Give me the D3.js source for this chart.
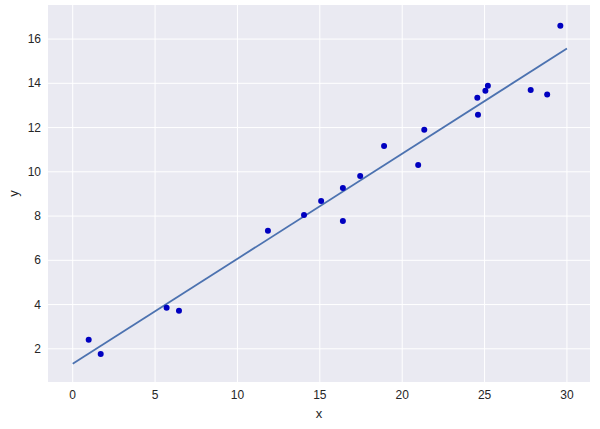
<!DOCTYPE html>
<html><head><meta charset="utf-8">
<script src="https://cdn.jsdelivr.net/npm/d3@7"></script>
<style>body{margin:0;background:#fff}text{font-family:"Liberation Sans",Arial,sans-serif}</style>
</head><body>
<svg id="chart" width="600" height="429"></svg>
<script>
var xs = [0.97,1.7,5.7,6.45,11.85,14.04,15.08,16.4,16.4,17.45,18.9,20.97,21.34,24.56,24.6,25.05,25.2,27.8,28.8,29.6];
var ys = [2.41,1.77,3.86,3.72,7.34,8.05,8.68,9.27,7.78,9.81,11.17,10.31,11.9,13.35,12.58,13.66,13.89,13.7,13.5,16.6];
var lineX = [0,30];
var lineY = [1.32,15.57];
var xTicks = [0,5,10,15,20,25,30];
var yTicks = [2,4,6,8,10,12,14,16];

var svg = d3.select("#chart");
var pl = 48, pr = 590, pt = 5, pb = 382;
var x = d3.scaleLinear().domain([-1.5,31.4]).range([pl,pr]);
var y = d3.scaleLinear().domain([0.5,17.54]).range([pb,pt]);

svg.append("rect").attr("x",pl).attr("y",pt).attr("width",pr-pl).attr("height",pb-pt).attr("fill","#EAEAF2");

svg.selectAll(".gx").data(xTicks).enter().append("line")
    .attr("x1",d=>x(d)).attr("x2",d=>x(d)).attr("y1",pt).attr("y2",pb)
    .attr("stroke","#fff").attr("stroke-width",1);
svg.selectAll(".gy").data(yTicks).enter().append("line")
    .attr("y1",d=>y(d)).attr("y2",d=>y(d)).attr("x1",pl).attr("x2",pr)
    .attr("stroke","#fff").attr("stroke-width",1);

svg.selectAll(".tx").data(xTicks).enter().append("text")
    .attr("x",d=>x(d)).attr("y",pb+17).attr("text-anchor","middle")
    .attr("font-size",12).attr("fill","#262626").text(d=>d);
svg.selectAll(".ty").data(yTicks).enter().append("text")
    .attr("x",pl-7).attr("y",d=>y(d)+4).attr("text-anchor","end")
    .attr("font-size",12).attr("fill","#262626").text(d=>d);

svg.append("text").attr("x",(pl+pr)/2).attr("y",418).attr("text-anchor","middle")
    .attr("font-size",13).attr("fill","#262626").text("x");
svg.append("text").attr("transform","translate(18,"+((pt+pb)/2)+") rotate(-90)")
    .attr("text-anchor","middle").attr("font-size",13).attr("fill","#262626").text("y");

svg.append("path")
    .attr("d",d3.line().x((d,i)=>x(lineX[i])).y(d=>y(d))(lineY))
    .attr("stroke","#4C72B0").attr("stroke-width",1.8).attr("fill","none");

svg.selectAll(".pt").data(xs).enter().append("circle")
    .attr("cx",d=>x(d)).attr("cy",(d,i)=>y(ys[i])).attr("r",3)
    .attr("fill","#0000c0");
</script>
</body></html>
